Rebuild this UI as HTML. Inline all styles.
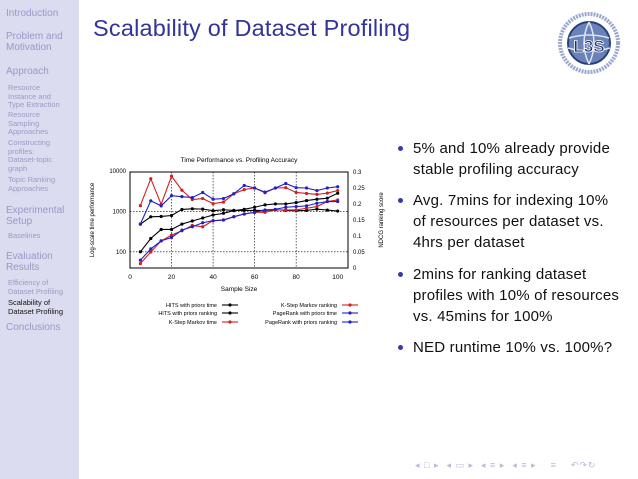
<!DOCTYPE html>
<html><head><meta charset="utf-8">
<style>
body{margin:0;width:638px;height:479px;overflow:hidden;background:#fff;font-family:"Liberation Sans","DejaVu Sans",sans-serif;position:relative}
#side{position:absolute;left:0;top:0;width:79px;height:479px;background:#dcdcf0}
.s{position:absolute;left:6px;color:#9898c8;font-size:10px;line-height:11px}
.ss{position:absolute;left:8px;color:#9a9ac4;font-size:7.5px;line-height:8.5px}
#title{position:absolute;left:93px;top:15px;font-size:23.5px;color:#33339a;letter-spacing:0.2px}
.b{position:absolute;left:413px;font-size:15px;line-height:21px;color:#111;white-space:nowrap;letter-spacing:0.2px}
.b:before{content:"";position:absolute;left:-15px;top:8px;width:5px;height:5px;border-radius:50%;background:#3838a8}
</style></head><body>
<div id="side">
<div class="s" style="top:8px">Introduction</div>
<div class="s" style="top:31px">Problem and<br>Motivation</div>
<div class="s" style="top:66px">Approach</div>
<div class="ss" style="top:84px">Resource<br>Instance and<br>Type Extraction</div>
<div class="ss" style="top:111px">Resource<br>Sampling<br>Approaches</div>
<div class="ss" style="top:139px">Constructing<br>profiles:<br>Dataset-topic<br>graph</div>
<div class="ss" style="top:176px">Topic Ranking<br>Approaches</div>
<div class="s" style="top:205px">Experimental<br>Setup</div>
<div class="ss" style="top:232px">Baselines</div>
<div class="s" style="top:251px">Evaluation<br>Results</div>
<div class="ss" style="top:279px">Efficiency of<br>Dataset Profiling</div>
<div class="ss" style="top:299px;color:#111">Scalability of<br>Dataset Profiling</div>
<div class="s" style="top:322px">Conclusions</div>
</div>
<div id="title">Scalability of Dataset Profiling</div>
<svg style="position:absolute;left:555px;top:8px" width="68" height="68">
<circle cx="34" cy="35" r="21" fill="#6a82b8"/><circle cx="34" cy="35" r="21" fill="none" stroke="#2a3f7a" stroke-width="2"/>
<path d="M14 30 Q34 24 54 30 M13 40 Q34 46 55 40 M34 14 Q24 35 34 56 M34 14 Q44 35 34 56" stroke="#dde4f2" fill="none" stroke-width="1.5"/>
<text x="34" y="44" font-size="17" font-weight="bold" fill="#1e2f6a" text-anchor="middle" stroke="#fff" stroke-width="0.8">L3S</text>
<circle cx="34" cy="35" r="29" fill="none" stroke="#9aa8cc" stroke-width="4" stroke-dasharray="2 1"/>
</svg>
<div class="b" style="top:138px">5% and 10% already provide<br>stable profiling accuracy</div>
<div class="b" style="top:190px">Avg. 7mins for indexing 10%<br>of resources per dataset vs.<br>4hrs per dataset</div>
<div class="b" style="top:264px">2mins for ranking dataset<br>profiles with 10% of resources<br>vs. 45mins for 100%</div>
<div class="b" style="top:337px">NED runtime 10% vs. 100%?</div>
<div style="position:absolute;left:415px;top:460px;font-size:9px;color:#b8b8dc;letter-spacing:1px">◂ □ ▸ &nbsp;◂ ▭ ▸ &nbsp;◂ ≡ ▸ &nbsp;◂ ≡ ▸ &nbsp;&nbsp; ≡ &nbsp;&nbsp; ↶↷↻</div>
<svg id="chart" style="position:absolute;left:0;top:0" width="638" height="479" font-family="Liberation Sans, sans-serif"></svg>
<script>
const xs=[5,10,15,20,25,30,35,40,45,50,55,60,65,70,75,80,85,90,95,100];
const hitsTime=[100,213,356,356,484,575,683,810,892,1040,1120,1260,1440,1520,1520,1640,1840,1990,2110,2800];
const hitsRank=[0.137,0.16,0.161,0.164,0.183,0.185,0.184,0.179,0.182,0.18,0.18,0.18,0.18,0.182,0.18,0.179,0.18,0.184,0.181,0.178];
const ksTime=[51,99,186,258,330,448,415,586,609,736,858,944,944,1080,1080,1080,1190,1310,1740,1910];
const ksRank=[0.195,0.279,0.199,0.287,0.243,0.214,0.217,0.201,0.206,0.232,0.245,0.25,0.235,0.25,0.251,0.236,0.233,0.23,0.234,0.242];
const prTime=[62,118,186,226,343,415,522,586,609,736,858,944,1080,1120,1260,1310,1360,1580,1740,1740];
const prRank=[0.137,0.21,0.194,0.226,0.223,0.22,0.236,0.215,0.217,0.232,0.258,0.25,0.237,0.25,0.264,0.251,0.25,0.242,0.25,0.254];
const xTicks=[0,20,40,60,80,100];
const yTicks=[100,1000,10000];
const y2Ticks=[0,0.05,0.1,0.15,0.2,0.25,0.3];
const L=130,R=348,T=172,B=268;
const X=v=>L+v*(337.7-L)/100;
const Y=v=>211.3-(Math.log10(v)-3)*40.5;
const Y2=v=>B-v/0.3*(B-T);
const svg=document.getElementById('chart');
function el(t,a,txt){const e=document.createElementNS('http://www.w3.org/2000/svg',t);for(const k in a)e.setAttribute(k,a[k]);if(txt!==undefined)e.textContent=txt;svg.appendChild(e);return e;}
let e;
e=el('rect',{x:L,y:T,width:R-L,height:B-T,fill:'none',stroke:'#000','stroke-width':1});


xTicks.forEach(v=>{
 if(v>0&&v<100){e=el('line',{x1:X(v),x2:X(v),y1:T,y2:B,stroke:'#000','stroke-width':0.6,'stroke-dasharray':'1.5 1.5'});
 
 }
 e=el('text',{x:X(v),y:B+11,'font-size':6.5,'text-anchor':'middle'},v);
 
 
});
yTicks.forEach(v=>{
 if(v<10000){e=el('line',{x1:L,x2:R,y1:Y(v),y2:Y(v),stroke:'#000','stroke-width':0.6,'stroke-dasharray':'1.5 1.5'});
 
 }
 e=el('text',{x:L-4,y:Y(v)+2,'font-size':6,'text-anchor':'end'},v);
 
 
});
y2Ticks.forEach(v=>{
 e=el('text',{x:R+5,y:Y2(v)+2,'font-size':6},v);
 
 
});
e=el('text',{x:239,y:162,'font-size':6.5,'text-anchor':'middle'},'Time Performance vs. Profiling Accuracy');


e=el('text',{x:239,y:291,'font-size':6.5,'text-anchor':'middle'},'Sample Size');


e=el('text',{x:0,y:0,'font-size':6,'text-anchor':'middle',transform:'translate(94,220) rotate(-90)'},'Log-scale time performance');


e=el('text',{x:0,y:0,'font-size':6,'text-anchor':'middle',transform:'translate(383,220) rotate(-90)'},'NDCG ranking score');


const series=[
 {n:'hits-time',d:hitsTime,f:Y,c:'#000',lab:'HITS with priors time',lx:222,ly:305},
 {n:'hits-ranking',d:hitsRank,f:Y2,c:'#000',lab:'HITS with priors ranking',lx:222,ly:313},
 {n:'kstep-time',d:ksTime,f:Y,c:'#d02020',lab:'K-Step Markov time',lx:222,ly:322},
 {n:'kstep-ranking',d:ksRank,f:Y2,c:'#d02020',lab:'K-Step Markov ranking',lx:342,ly:305},
 {n:'pagerank-time',d:prTime,f:Y,c:'#2020c8',lab:'PageRank with priors time',lx:342,ly:313},
 {n:'pagerank-ranking',d:prRank,f:Y2,c:'#2020c8',lab:'PageRank with priors ranking',lx:342,ly:322}
];
series.forEach(s=>{
 const pts=s.d.map((v,i)=>X(xs[i])+','+s.f(v)).join(' ');
 e=el('polyline',{points:pts,fill:'none',stroke:s.c,'stroke-width':1.1});
 
 
 s.d.forEach((v,i)=>{
  e=el('circle',{cx:X(xs[i]),cy:s.f(v),r:1.6,fill:s.c});
  
  
 });
 e=el('text',{x:s.lx-5,y:s.ly+2,'font-size':5.5,'text-anchor':'end'},s.lab);
 
 
 e=el('line',{x1:s.lx,x2:s.lx+16,y1:s.ly,y2:s.ly,stroke:s.c,'stroke-width':1.1});
 
 
 e=el('circle',{cx:s.lx+8,cy:s.ly,r:1.6,fill:s.c});
 
 
});
</script>
</body></html>
